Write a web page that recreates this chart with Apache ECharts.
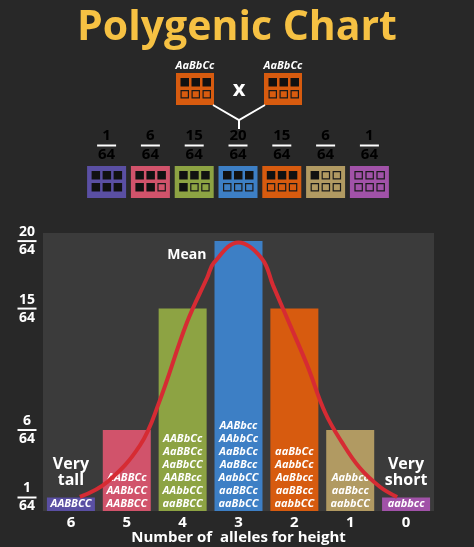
<!DOCTYPE html>
<html>
<head>
<meta charset="utf-8">
<script src="https://cdn.jsdelivr.net/npm/echarts@6/dist/echarts.min.js"></script>
<style>
html,body{margin:0;padding:0;background:#282828;}
#chart{width:474px;height:547px;}
</style>
</head>
<body>
<div id="chart"></div>
<script>
// ---- data ----
const categories = ['6', '5', '4', '3', '2', '1', '0'];
const counts = [1, 6, 15, 20, 15, 6, 1];
const denominator = 64;
const yTickValues = [1, 6, 15, 20];
const barColors = ['#5a4fa3', '#d1536b', '#8da343', '#3d7fc5', '#d75b0f', '#b19a62', '#a152a8'];
const genotypes = [
  ['AABBCC'],
  ['AABBCc', 'AABbCC', 'AABBCC'],
  ['AABbCc', 'AaBBCc', 'AaBbCC', 'AABBcc', 'AAbbCC', 'aaBBCC'],
  ['AABbcc', 'AAbbCc', 'AaBbCc', 'AaBBcc', 'AabbCC', 'aaBBCc', 'aaBbCC'],
  ['aaBbCc', 'AabbCc', 'AaBbcc', 'aaBBcc', 'aabbCC'],
  ['Aabbcc', 'aaBbcc', 'aabbCC'],
  ['aabbcc']
];
const dominantCounts = [6, 5, 4, 3, 3, 1, 0];
const parentGenotype = 'AaBbCc';
const parentDominant = 3;
const parentColor = '#d75b0f';
// red curve: [alleles, count out of 64]
const curveX = [5.84, 5.35, 4.76, 4.42, 3.92, 3.56, 3.44, 3.0, 2.58, 2.38, 2.11, 1.77, 1.45, 1.15, 0.83, 0.47, 0.16];
const curveY = [1.04, 2.15, 4.89, 8.07, 14.0, 17.3, 18.4, 19.9, 18.7, 16.7, 14.1, 10.8, 7.3, 5.1, 3.2, 1.8, 1.04];
const annotations = [['6', 1, 'Very\ntall'], ['0', 1, 'Very\nshort']];
const meanPoint = ['3', 19, 'Mean'];

// ---- layout helpers ----
const FONT = '"Open Sans", "DejaVu Sans", sans-serif';
const fracRich = (size, barW) => ({
  n: {fontSize: size, fontWeight: 'bold', color: '#fff', lineHeight: size, fontFamily: FONT},
  b: {width: barW, height: 2, backgroundColor: '#fff', lineHeight: 4, fontSize: 2},
  d: {fontSize: size, fontWeight: 'bold', color: '#fff', lineHeight: size, fontFamily: FONT}
});
const fracText = (num) => `{n|${num}}\n{b| }\n{d|${denominator}}`;

function geneBox(left, top, w, h, color, nFilled) {
  const children = [{type: 'rect', shape: {x: 0, y: 0, width: w, height: h}, style: {fill: color}}];
  const colX = [4.5, 15.5, 26.5];
  const rowY = [5, 17];
  let k = 0;
  for (let r = 0; r < 2; r++) {
    for (let c = 0; c < 3; c++) {
      const filled = k < nFilled;
      children.push({
        type: 'rect',
        shape: {x: colX[c] + (filled ? 0 : 0.6), y: rowY[r] + (filled ? 0 : 0.6), width: filled ? 8.5 : 7.3, height: filled ? 8.5 : 7.3},
        style: filled ? {fill: '#111'} : {fill: 'none', stroke: '#1a1a1a', lineWidth: 1.2}
      });
      k++;
    }
  }
  return {type: 'group', x: left, y: top, children};
}

const graphics = [];
// parents
[195, 283].forEach(cx => {
  graphics.push(geneBox(cx - 19, 73, 38, 32, parentColor, parentDominant));
  graphics.push({type: 'text', x: cx, y: 66, style: {text: parentGenotype, fill: '#fff', font: `italic bold 11px ${FONT}`, align: 'center', verticalAlign: 'middle'}});
});
graphics.push({type: 'text', x: 239, y: 90, style: {text: 'x', fill: '#fff', font: `bold 22px ${FONT}`, align: 'center', verticalAlign: 'middle'}});
graphics.push({type: 'polyline', shape: {points: [[213, 105], [239, 120], [265, 105]]}, style: {stroke: '#fff', lineWidth: 2, fill: 'none'}});
graphics.push({type: 'line', shape: {x1: 239, y1: 120, x2: 239, y2: 129}, style: {stroke: '#fff', lineWidth: 2}});
// offspring row
counts.forEach((c, i) => {
  const cx = 238 + (i - 3) * 43.8;
  graphics.push({type: 'text', x: cx, y: 145.5, style: {text: fracText(c), rich: fracRich(15, 19), align: 'center', verticalAlign: 'middle'}});
  graphics.push(geneBox(cx - 19.5, 166, 39, 32, barColors[i], dominantCounts[i]));
});

const chart = echarts.init(document.getElementById('chart'), null, {renderer: 'canvas'});
chart.setOption({
  backgroundColor: '#282828',
  animation: false,
  title: {
    text: 'Polygenic Chart', left: 'center', top: 3,
    textStyle: {color: '#f6c143', fontSize: 41, fontWeight: 'bold', fontFamily: FONT}
  },
  graphic: graphics,
  grid: {left: 43, right: 40, top: 233, bottom: 36, show: true, backgroundColor: '#3b3b3b', borderWidth: 0, outerBoundsMode: 'none', containLabel: false},
  xAxis: [{
    type: 'category', data: categories,
    axisLine: {show: false}, axisTick: {show: false},
    axisLabel: {color: '#fff', fontSize: 15, fontWeight: 'bold', fontFamily: FONT, margin: 4},
    name: 'Number of  alleles for height', nameLocation: 'middle', nameGap: 19, nameMoveOverlap: false,
    nameTextStyle: {color: '#fff', fontSize: 15, fontWeight: 'bold', fontFamily: FONT}
  }, {
    type: 'value', min: -0.5, max: 6.5, inverse: true, show: false
  }],
  yAxis: {
    type: 'value', min: 0, max: 20.6,
    axisLine: {show: false}, axisTick: {show: false}, splitLine: {show: false},
    axisLabel: {
      customValues: yTickValues, align: 'center', margin: 16,
      formatter: v => fracText(v), rich: fracRich(14, 19)
    }
  },
  series: [{
    type: 'bar', barWidth: 48, z: 2,
    data: counts.map((v, i) => ({value: v, itemStyle: {color: barColors[i]}})),
    label: {
      show: true, position: 'insideBottom', distance: 1,
      formatter: p => genotypes[p.dataIndex].join('\n'),
      color: '#fff', fontSize: 11, fontStyle: 'italic', fontWeight: 'bold', lineHeight: 13, fontFamily: FONT
    }
  }, {
    type: 'line', xAxisIndex: 1, z: 5, smooth: 0.4, symbol: 'none',
    data: curveX.map((x, i) => [x, curveY[i]]),
    lineStyle: {color: '#d62b33', width: 4}
  }, {
    type: 'scatter', z: 6, symbolSize: 0, itemStyle: {opacity: 1},
    data: annotations.map(a => ({value: [a[0], a[1]], name: a[2]})),
    label: {show: true, position: 'top', distance: 9, formatter: p => p.name, color: '#fff', opacity: 1, fontSize: 16, fontWeight: 'bold', lineHeight: 16, fontFamily: FONT}
  }, {
    type: 'scatter', z: 6, symbolSize: 0, itemStyle: {opacity: 1},
    data: [{value: [meanPoint[0], meanPoint[1]], name: meanPoint[2]}],
    label: {show: true, position: 'left', distance: 32, formatter: p => p.name, color: '#fff', opacity: 1, fontSize: 14, fontWeight: 'bold', fontFamily: FONT}
  }]
});
</script>
</body>
</html>
